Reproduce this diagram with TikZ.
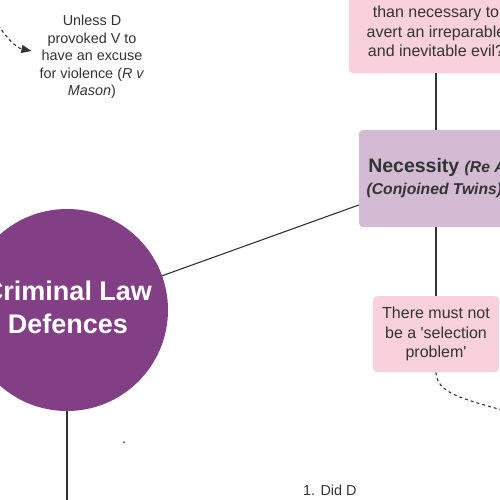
\documentclass[tikz,border=0pt]{standalone}
\usepackage{fontspec}
\setmainfont{Liberation Sans}
\usepackage{xcolor}
\usetikzlibrary{arrows.meta,positioning}
\definecolor{inkgray}{HTML}{333333}
\definecolor{pinkfill}{HTML}{F9D1DC}
\definecolor{lilacfill}{HTML}{D2BBD3}
\definecolor{plum}{HTML}{823F85}

\begin{document}
\begin{tikzpicture}[x=1pt, y=-1pt,
      node distance=57pt and 5mm,
      box/.style={rounded corners=4pt, align=center, text=inkgray, inner sep=0pt,
                  font=\fontsize{16}{19.5}\selectfont},
      question/.style={box, fill=pinkfill},
      defence/.style={box, fill=lilacfill, font=\bfseries\fontsize{19.5}{22}\selectfont},
      note/.style={align=center, text=inkgray, inner sep=0pt,
                   font=\fontsize{14.4}{17.5}\selectfont},
      link/.style={draw=inkgray, line width=1.1pt},
      hint/.style={link, dash pattern=on 3pt off 3pt},
      arr/.style={-{Triangle[length=10pt, width=8pt]}}]
    \useasboundingbox (0,0) rectangle (500,500);
    \clip (0,0) rectangle (500,500);
    % centre of the map
    \node[circle, fill=plum, minimum size=202pt, inner sep=0pt] (core) at (67,310) {};
    \node[text=white, align=center, inner sep=0pt,
          font=\bfseries\fontsize{27}{33}\selectfont] (core-text) at (68,307) {Criminal Law\\Defences};
    % necessity branch
    \node[defence, minimum width=156pt, minimum height=97pt] (necessity) at (437,178.5)
          {Necessity {\fontsize{15.7}{22}\selectfont\itshape(Re A}\\
           {\fontsize{15.7}{22}\selectfont\itshape(Conjoined Twins))}};
    \node[question, minimum width=174pt, minimum height=84pt, anchor=south] (evil) at (436,73.5)
          {than necessary to\\avert an irreparable\\and inevitable evil?};
    \node[question, minimum width=126pt, minimum height=76pt, anchor=north] (selection) at (436,296)
          {There must not\\be a \textquotesingle selection\\problem\textquotesingle};
    % loose notes
    \node[note] (excuse) at (92,57) {Unless D\\provoked V to\\have an excuse\\for violence (\textit{R v}\\\textit{Mason})};
    \node[note, anchor=base west] (didd) at (303,495) {1. Did D};
    \node[note, anchor=base] (stray) at (124,443) {.};
    \coordinate (excuse-from) at (-8,15);
    \coordinate (core-down) at (67,510);
    \coordinate (selection-to) at (506,411);
    \draw[link] (core) -- ([yshift=-26.5pt]necessity.west);
    \draw[link] (evil.south) -- (evil.south |- necessity.north);
    \draw[link] (selection.north |- necessity.south) -- (selection.north);
    \draw[link] (core) -- (core-down);
    \draw[hint] (selection.south) .. controls (437,392) and (458,398) .. (selection-to);
    \draw[hint, arr] (excuse-from) .. controls (5,38) and (17,48) .. ([xshift=-8pt, yshift=6pt]excuse.west);
  \end{tikzpicture}
\end{document}
